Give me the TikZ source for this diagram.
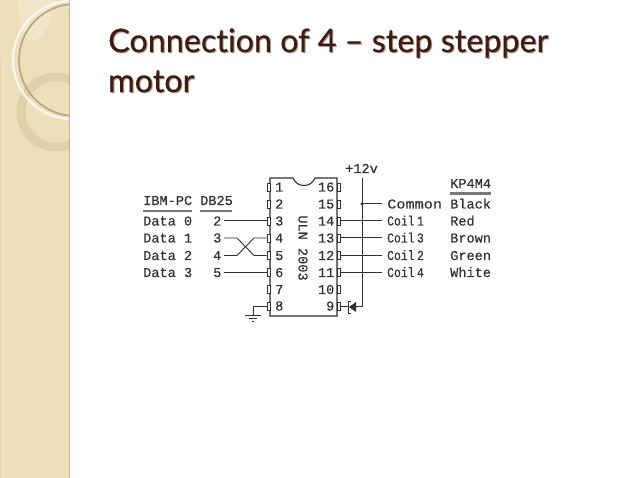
\documentclass[tikz,border=0pt]{standalone}
\usepackage{fontspec}
\setmainfont{Lato}
\setmonofont[FakeBold=0.25]{Liberation Mono}
\newfontfamily\titlefont[FakeBold=0.35,Ligatures=NoCommon]{Lato}
\usetikzlibrary{calc}
\definecolor{strip}{HTML}{EEDFBB}
\definecolor{stripedge}{HTML}{CDBB8F}
\definecolor{ink}{HTML}{303030}
\definecolor{titleink}{HTML}{431A0C}
\definecolor{titleshade}{HTML}{A89A90}
\newcommand{\shadedtitle}[1]{\rlap{\kern1pt\raisebox{-1pt}{\color{titleshade}#1}}#1}
\newcommand{\coilname}[1]{Coil\kern-4.8pt\ \kern-.5pt #1}
\tikzset{
  x=1pt,y=-1pt,
  mono/.style={font=\fontsize{13.6}{13.6}\ttfamily\selectfont,text=ink,inner sep=0pt},
  lbl/.style={mono,anchor=base west},
  coil/.style={lbl,xscale=.84},
  rgt/.style={mono,anchor=base east},
  titletext/.style={font=\fontsize{32.3}{32.3}\titlefont\selectfont,text=titleink,inner sep=0pt,anchor=base west},
  wire/.style={draw=ink,line width=1pt},
  thin wire/.style={draw=ink,line width=.9pt},
  stub/.style={draw=ink,line width=.8pt,fill=white,minimum width=3pt,minimum height=8pt,inner sep=0pt},
  rule/.style={draw=ink!65,line width=2.8pt},
}
\begin{document}
\begin{tikzpicture}
\useasboundingbox (0,0) rectangle (638,478);
\fill[white] (0,0) rectangle (638,478);
% decorated strip
\fill[strip] (0,0) rectangle (70,478);
\fill[stripedge!60] (0,57) rectangle (1.2,478);
\fill[stripedge] (68.8,0) rectangle (70,478);
\begin{scope}
\clip (0,0) rectangle (68.8,478);
\fill[white,opacity=.22] (18,0) .. controls (20,45) and (34,52) .. (48,25) -- (57,0) -- cycle;
\draw[stripedge,opacity=.4,line width=9pt] (56,112) circle[radius=35];
\draw[white,opacity=.7,line width=2.5pt] (72,60) circle[radius=59];
\draw[stripedge!90!black,line width=1.8pt] (75,60) circle[radius=56];
\end{scope}
% title
\node[titletext] (title1) at (108,52) {\shadedtitle{Connection of 4 – step stepper}};
\node[titletext] (title2) at (108,92) {\shadedtitle{motor}};
% chip
\path[wire,line width=1.1pt,fill=white] (270,178) -- (293,178) .. controls (297,188) and (311,188) .. (315,178) -- (337,178) -- (337,316) -- (270,316) -- cycle;
\node[mono,rotate=-90] (chipname) at (303,248) {ULN 2003};
% pins left
\foreach \n/\y in {1/187,2/204,3/221,4/238,5/255.5,6/272.5,7/289.5,8/306}{
  \node[stub] (L\n) at (268.5,\y) {};
  \node[lbl] (LN\n) at (275,\y+4.5) {\n};
}
% pins right
\foreach \n/\y in {16/187,15/204,14/221,13/238,12/255.5,11/272.5,10/289.5,9/306}{
  \node[stub] (R\n) at (338.5,\y) {};
  \node[rgt] (RN\n) at (334.5,\y+4.5) {\n};
}
% left table
\node[lbl] (ibm) at (143,205) {IBM-PC};
\node[lbl] (db) at (200,205) {DB25};
\draw[rule] (143,211) -- (192,211);
\draw[rule] (200,211) -- (232,211);
\node[lbl] (d0) at (143,225.5) {Data 0};
\node[lbl] (d1) at (143,242.5) {Data 1};
\node[lbl] (d2) at (143,260) {Data 2};
\node[lbl] (d3) at (143,277) {Data 3};
\node[lbl] (p2) at (213,225.5) {2};
\node[lbl] (p3) at (213,242.5) {3};
\node[lbl] (p4) at (213,260) {4};
\node[lbl] (p5) at (213,277) {5};
\coordinate (a2) at (224,221);
\coordinate (a3) at (224,238);
\coordinate (a4) at (224,255.5);
\coordinate (a5) at (224,272.5);
\draw[wire] (a2) -- (L3.west);
\draw[thin wire] (a3) -- (237,238) -- (254,255.5) -- (L5.west);
\draw[thin wire] (a4) -- (237,255.5) -- (254,238) -- (L4.west);
\draw[wire] (a5) -- (L6.west);
% ground
\coordinate (gnd) at (253,315);
\draw[thin wire] (L8.west) -- (253,306) -- (gnd);
\draw[thin wire] (245,315) -- (261,315);
\draw[thin wire] (249,318.5) -- (257,318.5);
\draw[thin wire] (252,321.5) -- (254,321.5);
% right side
\node[lbl] (v12) at (345,173) {+12v};
\coordinate (vtop) at (362,178);
\coordinate (vbot) at (362,307);
\coordinate (jc) at (362,204);
\node[lbl,xscale=1.12] (common) at (387,208.5) {Common};
\node[coil] (c1) at (387,225.5) {\coilname{1}};
\node[coil] (c3) at (387,242.5) {\coilname{3}};
\node[coil] (c2) at (387,260) {\coilname{2}};
\node[coil] (c4) at (387,277) {\coilname{4}};
\foreach \n/\y in {14/221,13/238,12/255.5,11/272.5}{
  \draw[wire] (R\n.east) -- (382,\y);
}
\draw[wire] (vtop) -- (vbot) -- (356,307);
\draw[wire] (jc) -- (382,204);
\fill[ink] (jc) circle[radius=1.6];
% diode
\fill[ink] (349,307) -- (356,302) -- (356,312) -- cycle;
\draw[thin wire] (351,301) -- (348,301) -- (348,313) -- (351,313);
\draw[thin wire] (R9.east) -- (348,306);
% right table
\node[lbl] (kp) at (450,188) {KP4M4};
\draw[rule] (450,193.5) -- (491,193.5);
\node[lbl] (k1) at (450,208.5) {Black};
\node[lbl] (k2) at (450,225.5) {Red};
\node[lbl] (k3) at (450,242.5) {Brown};
\node[lbl] (k4) at (450,260) {Green};
\node[lbl] (k5) at (450,277) {White};
\end{tikzpicture}
\end{document}
